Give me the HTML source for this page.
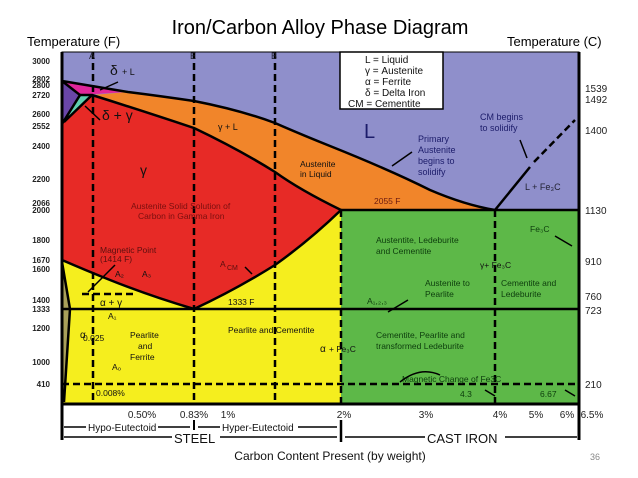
<!DOCTYPE html>
<html><head><meta charset="utf-8"><style>
body{margin:0;background:#fff;}
svg{display:block;font-family:"Liberation Sans",sans-serif;}
</style></head><body>
<svg width="638" height="478" viewBox="0 0 638 478">
<text x="320" y="34" font-size="20" text-anchor="middle">Iron/Carbon Alloy Phase Diagram</text>
<text x="27" y="46" font-size="13">Temperature (F)</text>
<text x="507" y="46" font-size="13">Temperature (C)</text>

<g>
<rect x="62" y="52" width="517" height="352" fill="#8f8fcb"/>
<rect x="341" y="210" width="238" height="194" fill="#5db848"/>
<polygon points="62,260 62,404 341,404 341,210" fill="#f5ee1e"/>
<path d="M92,95 L128,92 Q160,96 194,101 Q240,110 275,123 Q300,134 330,146 Q390,170 430,190 Q465,205 495,210 L341,210 Q300,190 275,172 Q240,150 194,128 Q140,110 92,95Z" fill="#f1852a"/>
<path d="M62,124 L92,95 Q140,110 194,128 Q240,150 275,172 Q300,190 341,210 Q310,240 275,265 Q235,290 194,309 Q150,296 110,280 Q85,270 62,260Z" fill="#e72a26"/>
<polygon points="62,81 128,92 80,95" fill="#e0269a"/>
<polygon points="62,81 80,95 62,124" fill="#6a46a8"/>
<polygon points="80,95 92,95 64,122" fill="#5fcfb0"/>
<polygon points="62,262 70,309 64,402 62,404" fill="#a9a05a"/>
</g>

<g fill="none" stroke="#000" stroke-width="2.5">
<path d="M62,81 L128,92 Q160,96 194,101 Q240,110 275,123 Q300,134 330,146 Q390,170 430,190 Q465,205 495,210"/>
<path d="M80,95 L92,95 Q140,110 194,128 Q240,150 275,172 Q300,190 341,210"/>
<path d="M62,81 L80,95 L62,124 M92,95 L64,122"/>
<path d="M62,260 Q85,270 110,280 Q150,296 194,309 Q235,290 275,265 Q310,240 341,210"/>
<path d="M62,262 L70,309 L64,402"/>
<path d="M62,309 L579,309 M341,210 L579,210"/>
<path d="M495,210 L530,167"/>
<path d="M534,162 L575,120" stroke-dasharray="7,4"/>
<path d="M93,52 V404 M194,52 V404 M275,52 V404 M341,210 V404 M495,210 V404 M82,294 H135 M62,384 H579" stroke-dasharray="7,4"/>
</g>
<rect x="62" y="52" width="517" height="352" fill="none" stroke="#000" stroke-width="1"/>
<line x1="62" y1="52" x2="62" y2="440" stroke="#000" stroke-width="3"/>
<line x1="579" y1="52" x2="579" y2="440" stroke="#000" stroke-width="3"/>
<line x1="62" y1="404" x2="579" y2="404" stroke="#000" stroke-width="3"/>

<g font-size="8" font-weight="bold" fill="#222" text-anchor="end" id="lt"></g>
<g font-size="10" fill="#222" id="rt"></g>
<g font-size="10" fill="#222" text-anchor="middle" id="xt"></g>

<g font-size="9" fill="#223">
<text x="89" y="59">A</text><text x="190" y="59">E</text><text x="271" y="59">B</text>
</g>

<g>
<rect x="340" y="52" width="103" height="57" fill="#fff" stroke="#000" stroke-width="1.5"/>
<g font-size="10" fill="#111">
<text x="365" y="63">L  =  Liquid</text>
<text x="365" y="74">γ  =  Austenite</text>
<text x="365" y="85">α  =  Ferrite</text>
<text x="365" y="96">δ  =  Delta Iron</text>
<text x="348" y="107">CM  =  Cementite</text>
</g></g>

<g fill="#1c1c6a" font-size="9">
<text x="364" y="138" font-size="20">L</text>
<text x="418" y="142">Primary</text><text x="418" y="153">Austenite</text><text x="418" y="164">begins to</text><text x="418" y="175">solidify</text>
<text x="480" y="120">CM begins</text><text x="480" y="131">to solidify</text>
<text x="525" y="190" fill="#223">L + Fe₃C</text>
<text x="110" y="75" font-size="14" fill="#111">δ</text><text x="122" y="75" fill="#111">+ L</text>
<text x="102" y="120" font-size="14" fill="#111">δ + γ</text>
<text x="218" y="130" fill="#111">γ + L</text>
<text x="140" y="175" font-size="14" fill="#111">γ</text>
</g>
<g fill="#111" font-size="8.5">
<text x="300" y="167">Austenite</text><text x="300" y="177">in Liquid</text>
<text x="374" y="204" fill="#6a1a10">2055 F</text>
<text x="131" y="209" fill="#7a0f0f">Austenite Solid Solution of</text>
<text x="138" y="219" fill="#7a0f0f">Carbon in Gamma Iron</text>
<text x="100" y="253" fill="#5a0f0f">Magnetic Point</text><text x="100" y="262" fill="#5a0f0f">(1414 F)</text>
<text x="220" y="267" fill="#5a0f0f">A</text><text x="227" y="270" font-size="7" fill="#5a0f0f">CM</text>
<text x="115" y="277">A₂</text><text x="142" y="277">A₃</text>
<text x="100" y="306" font-size="10">α + γ</text>
<text x="228" y="305">1333 F</text>
<text x="108" y="319">A₁</text>
<text x="80" y="338" font-size="10">α</text>
<text x="83" y="341">0.025</text>
<text x="130" y="338">Pearlite</text><text x="138" y="349">and</text><text x="130" y="360">Ferrite</text>
<text x="112" y="370">A₀</text>
<text x="96" y="396">0.008%</text>
<text x="228" y="333">Pearlite and Cementite</text>
<text x="320" y="352" font-size="10">α</text><text x="329" y="352">+ Fe₃C</text>
<text x="376" y="243" fill="#0d3d0d">Austentite, Ledeburite</text><text x="376" y="254" fill="#0d3d0d">and Cementite</text>
<text x="480" y="268">γ+ Fe₃C</text>
<text x="425" y="286" fill="#0d3d0d">Austenite to</text><text x="425" y="297" fill="#0d3d0d">Pearlite</text>
<text x="501" y="286" fill="#0d3d0d">Cementite and</text><text x="501" y="297" fill="#0d3d0d">Ledeburite</text>
<text x="367" y="304" fill="#0d3d0d">A₁,₂,₃</text>
<text x="530" y="232" fill="#0d3d0d">Fe₃C</text>
<text x="376" y="338" fill="#0d3d0d">Cementite, Pearlite and</text><text x="376" y="349" fill="#0d3d0d">transformed Ledeburite</text>
<text x="402" y="382" fill="#0d3d0d">Magnetic Change of Fe3C</text>
<text x="460" y="397" fill="#0d3d0d">4.3</text><text x="540" y="397" fill="#0d3d0d">6.67</text>
</g>

<g stroke="#000" stroke-width="1.5" fill="none">
<path d="M118,82 L100,90"/><path d="M100,120 L85,106"/><path d="M412,152 L392,166"/><path d="M520,140 L527,158"/>
<path d="M245,267 L252,274"/><path d="M115,265 L88,292"/><path d="M555,236 L572,246"/><path d="M408,300 L388,312"/>
<path d="M485,390 L495,396"/><path d="M565,390 L575,396"/><path d="M440,375 Q420,366 400,382"/>
</g>

<g font-size="10" fill="#111">
<path d="M64,427 H190 M198,427 H337 M64,437 H337 M345,437 H577" stroke="#000" stroke-width="1.5"/>
<line x1="194" y1="420" x2="194" y2="434" stroke="#000" stroke-width="2"/>
<line x1="341" y1="420" x2="341" y2="442" stroke="#000" stroke-width="2.5"/>
<rect x="86" y="421" width="72" height="11" fill="#fff"/><text x="88" y="431">Hypo-Eutectoid</text>
<rect x="220" y="421" width="78" height="11" fill="#fff"/><text x="222" y="431">Hyper-Eutectoid</text>
<rect x="172" y="430" width="48" height="14" fill="#fff"/><text x="174" y="443" font-size="13">STEEL</text>
<rect x="425" y="430" width="80" height="14" fill="#fff"/><text x="427" y="443" font-size="13">CAST IRON</text>
<text x="330" y="460" font-size="12" text-anchor="middle">Carbon Content Present (by weight)</text>
<text x="590" y="460" font-size="9" fill="#888">36</text>
</g>

<script>
const leftTicks=["3000","2802","2800","2720","2600","2552","2400","2200","2066","2000","1800","1670","1600","1400","1333","1200","1000","410"];
const leftTickY=[61,79,85,95,114,126,146,179,203,210,240,260,269,300,309,328,362,384];
const rightTicks=["1539","1492","1400","1130","910","760","723","210"];
const rightTickY=[88,99,130,210,261,296,310,384];
const xTicks=["0.50%","0.83%","1%","2%","3%","4%","5%","6%","6.5%"];
const xTickX=[142,194,228,344,426,500,536,567,592];
const NS="http://www.w3.org/2000/svg";
const lt=document.getElementById('lt'),rt=document.getElementById('rt'),xt=document.getElementById('xt');
leftTicks.forEach((t,i)=>{const e=document.createElementNS(NS,'text');e.setAttribute('x',50);e.setAttribute('y',leftTickY[i]+3);e.textContent=t;


lt.appendChild(e);});
rightTicks.forEach((t,i)=>{const e=document.createElementNS(NS,'text');e.setAttribute('x',585);e.setAttribute('y',rightTickY[i]+4);e.textContent=t;


rt.appendChild(e);});
xTicks.forEach((t,i)=>{const e=document.createElementNS(NS,'text');e.setAttribute('x',xTickX[i]);e.setAttribute('y',418);e.textContent=t;


xt.appendChild(e);});
</script>
</svg>
</body></html>
